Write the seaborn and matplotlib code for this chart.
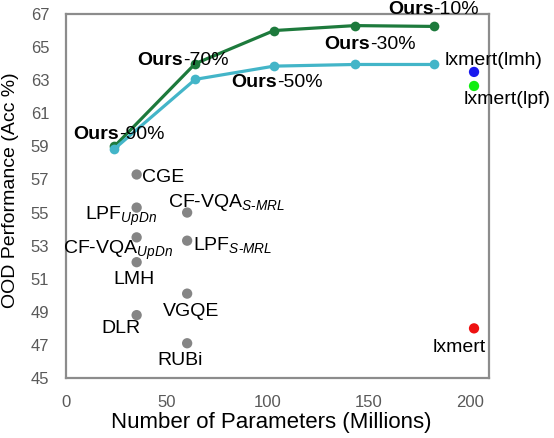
import matplotlib
matplotlib.use("Agg")
import matplotlib.pyplot as plt
import seaborn as sns
import pandas as pd

# "Ours" pruning results (two curves)
ours_params = [24, 64, 103, 143, 182]
ours_green = [59.0, 64.0, 66.0, 66.3, 66.25]
ours_cyan = [58.85, 63.05, 63.85, 63.95, 63.95]

# baseline methods
base_names = ["CGE", "LPF_UpDn", "CF-VQA_S-MRL", "CF-VQA_UpDn", "LPF_S-MRL",
              "LMH", "VGQE", "DLR", "RUBi"]
base_params = [35, 35, 60, 35, 60, 35, 60, 35, 60]
base_acc = [57.3, 55.3, 55.0, 53.5, 53.3, 52.0, 50.1, 48.8, 47.1]

# lxmert variants
lx_names = ["lxmert(lmh)", "lxmert(lpf)", "lxmert"]
lx_params = [202, 202, 202]
lx_acc = [63.5, 62.65, 48.0]
lx_colors = ["#1a1aee", "#11ee11", "#ee1111"]

sns.set_style("white")
plt.rcParams["font.family"] = ["Liberation Sans", "DejaVu Sans"]
plt.rcParams["mathtext.fontset"] = "custom"
plt.rcParams["mathtext.rm"] = "Liberation Sans"
plt.rcParams["mathtext.it"] = "Liberation Sans:italic"
plt.rcParams["text.color"] = "black"
plt.rcParams["axes.labelcolor"] = "black"

fig = plt.figure(figsize=(5.54, 4.38), dpi=100)
ax = fig.add_axes([0.119, 0.137, 0.764, 0.831])

df = pd.DataFrame({"params": ours_params, "green": ours_green, "cyan": ours_cyan})
sns.lineplot(data=df, x="params", y="green", ax=ax, color="#1d7a3c",
             linewidth=2.3, marker="o", markersize=7, markeredgewidth=0)
sns.lineplot(data=df, x="params", y="cyan", ax=ax, color="#43b5c8",
             linewidth=2.3, marker="o", markersize=7, markeredgewidth=0)

sns.scatterplot(x=base_params, y=base_acc, ax=ax, color="#858585", s=55,
                edgecolor="none")
sns.scatterplot(x=lx_params, y=lx_acc, ax=ax, hue=lx_names,
                palette=lx_colors, s=55, edgecolor="none", legend=False)

fs = 14
# "Ours" labels: (series, index, pct, dx, dy) offsets in pixels
ours_labels = [
    (ours_green, 0, "-90%", 4.5, 7),
    (ours_green, 1, "-70%", -12, -1.5),
    (ours_cyan, 2, "-50%", 3, -20.5),
    (ours_green, 3, "-30%", 15, -23.6),
    (ours_green, 4, "-10%", 0, 12),
]
for series, i, pct, dx, dy in ours_labels:
    xy = (ours_params[i], series[i])
    ax.annotate("Ours", xy, xytext=(dx, dy), textcoords="offset pixels",
                ha="right", va="baseline", fontsize=fs, fontweight="bold")
    ax.annotate(pct, xy, xytext=(dx, dy), textcoords="offset pixels",
                ha="left", va="baseline", fontsize=fs)

base_text = {
    "CGE": ("CGE", "left", 5, -8),
    "LPF_UpDn": (r"LPF$_{\mathit{UpDn}}$", "right", 21, -12),
    "CF-VQA_S-MRL": (r"CF-VQA$_{\mathit{S\text{-}MRL}}$", "left", -19, 6),
    "CF-VQA_UpDn": (r"CF-VQA$_{\mathit{UpDn}}$", "right", 36, -17),
    "LPF_S-MRL": (r"LPF$_{\mathit{S\text{-}MRL}}$", "left", 6, -9),
    "LMH": ("LMH", "center", -3, -22),
    "VGQE": ("VGQE", "center", 4, -22),
    "DLR": ("DLR", "center", -16, -18),
    "RUBi": ("RUBi", "center", -7, -22),
}
for name, x, y in zip(base_names, base_params, base_acc):
    label, ha, dx, dy = base_text[name]
    ax.annotate(label, (x, y), xytext=(dx, dy), textcoords="offset pixels",
                ha=ha, va="baseline", fontsize=fs)

lx_offsets = [(20, 7), (33, -18.5), (-15, -24)]
for name, x, y, (dx, dy) in zip(lx_names, lx_params, lx_acc, lx_offsets):
    ax.annotate(name, (x, y), xytext=(dx, dy), textcoords="offset pixels",
                ha="center", va="baseline", fontsize=fs,
                annotation_clip=False)

ax.set_xlim(0, 209.5)
ax.set_ylim(45, 67)
ax.set_xticks(range(0, 201, 50))
ax.set_yticks(range(45, 68, 2))
ax.tick_params(length=0, pad=12, labelsize=12, labelcolor="#595959")

for sp in ax.spines.values():
    sp.set_color("#8c8c8c")
    sp.set_linewidth(1.6)

ax.set_xlabel("Number of Parameters (Millions)", fontsize=16)
ax.set_ylabel("OOD Performance (Acc %)", fontsize=14)
ax.xaxis.set_label_coords(0.486, -0.093)
ax.yaxis.set_label_coords(-0.11, 0.515)

fig.savefig("out.png", dpi=100)
